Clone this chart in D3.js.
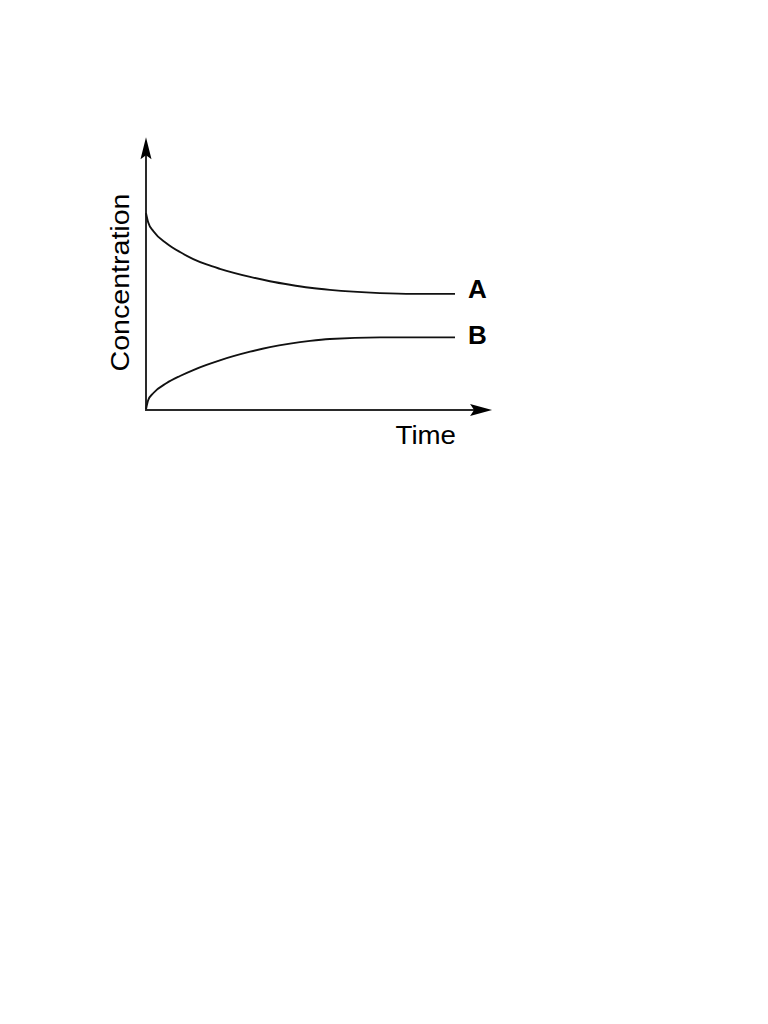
<!DOCTYPE html>
<html>
<head>
<meta charset="utf-8">
<script src="https://cdn.jsdelivr.net/npm/d3@7"></script>
<style>
  html, body { margin: 0; padding: 0; background: #fff; }
  svg { display: block; }
  text { font-family: "Liberation Sans", Arial, Helvetica, sans-serif; fill: #000; }
</style>
</head>
<body>
<svg id="chart" width="768" height="1024"></svg>
<script>
// ---- data ----
const time   = [0, 0.07, 0.24, 0.67, 1.10, 1.53, 1.96, 2.39, 3.37, 4.01, 4.66, 5.31, 5.95, 7.57, 8.64, 10];
const concA  = [7.29, 6.95, 6.62, 6.17, 5.85, 5.59, 5.39, 5.23, 4.93, 4.77, 4.64, 4.53, 4.45, 4.33, 4.30, 4.30];
const concB  = [0.03, 0.36, 0.63, 1.00, 1.26, 1.48, 1.67, 1.84, 2.16, 2.33, 2.46, 2.56, 2.63, 2.69, 2.69, 2.69];
const seriesNames = ["A", "B"];
const xLabel = "Time";
const yLabel = "Concentration";

// ---- scales ----
const svg = d3.select("#chart");
const x = d3.scaleLinear().domain([0, 10]).range([146, 455]);
const y = d3.scaleLinear().domain([0, 10]).range([410, 140]);
const xEnd = 11.2;   // arrow tip in data units
const yEnd = 10.1;

const axisColor = "#2a2a2a";

// axes lines
svg.append("line")
  .attr("x1", x(0)).attr("y1", y(0))
  .attr("x2", x(0)).attr("y2", y(yEnd) + 17)
  .attr("stroke", axisColor).attr("stroke-width", 2);
svg.append("line")
  .attr("x1", x(0) - 1).attr("y1", y(0))
  .attr("x2", x(xEnd) - 17).attr("y2", y(0))
  .attr("stroke", axisColor).attr("stroke-width", 2);

// arrowheads (stealth style)
const tx = x(0), ty = y(yEnd);
svg.append("path")
  .attr("d", `M${tx},${ty} L${tx + 5.5},${ty + 22} L${tx},${ty + 18} L${tx - 5.5},${ty + 22} Z`)
  .attr("fill", "#000");
const ax = x(xEnd), ay = y(0);
svg.append("path")
  .attr("d", `M${ax},${ay} L${ax - 22},${ay - 6} L${ax - 18},${ay} L${ax - 22},${ay + 6} Z`)
  .attr("fill", "#000");

// curves
const line = d3.line()
  .x(d => x(d[0]))
  .y(d => y(d[1]))
  .curve(d3.curveMonotoneX);

const series = [concA, concB];
series.forEach((vals, i) => {
  const pts = time.map((t, k) => [t, vals[k]]);
  svg.append("path")
    .datum(pts)
    .attr("d", line)
    .attr("fill", "none")
    .attr("stroke", "#111")
    .attr("stroke-width", 1.9);
  svg.append("text")
    .attr("x", x(10) + 13)
    .attr("y", y(vals[vals.length - 1]) + (i === 0 ? 4.5 : 7))
    .attr("font-size", 26)
    .attr("font-weight", "bold")
    .text(seriesNames[i]);
});

// axis labels
svg.append("text")
  .attr("x", 395.5)
  .attr("y", 443.5)
  .attr("font-size", 26)
  .attr("textLength", 60.5)
  .attr("lengthAdjust", "spacingAndGlyphs")
  .text(xLabel);

svg.append("text")
  .attr("transform", `translate(128.5, ${(193 + 372) / 2}) rotate(-90)`)
  .attr("text-anchor", "middle")
  .attr("font-size", 26)
  .attr("textLength", 178)
  .attr("lengthAdjust", "spacingAndGlyphs")
  .text(yLabel);
</script>
</body>
</html>
